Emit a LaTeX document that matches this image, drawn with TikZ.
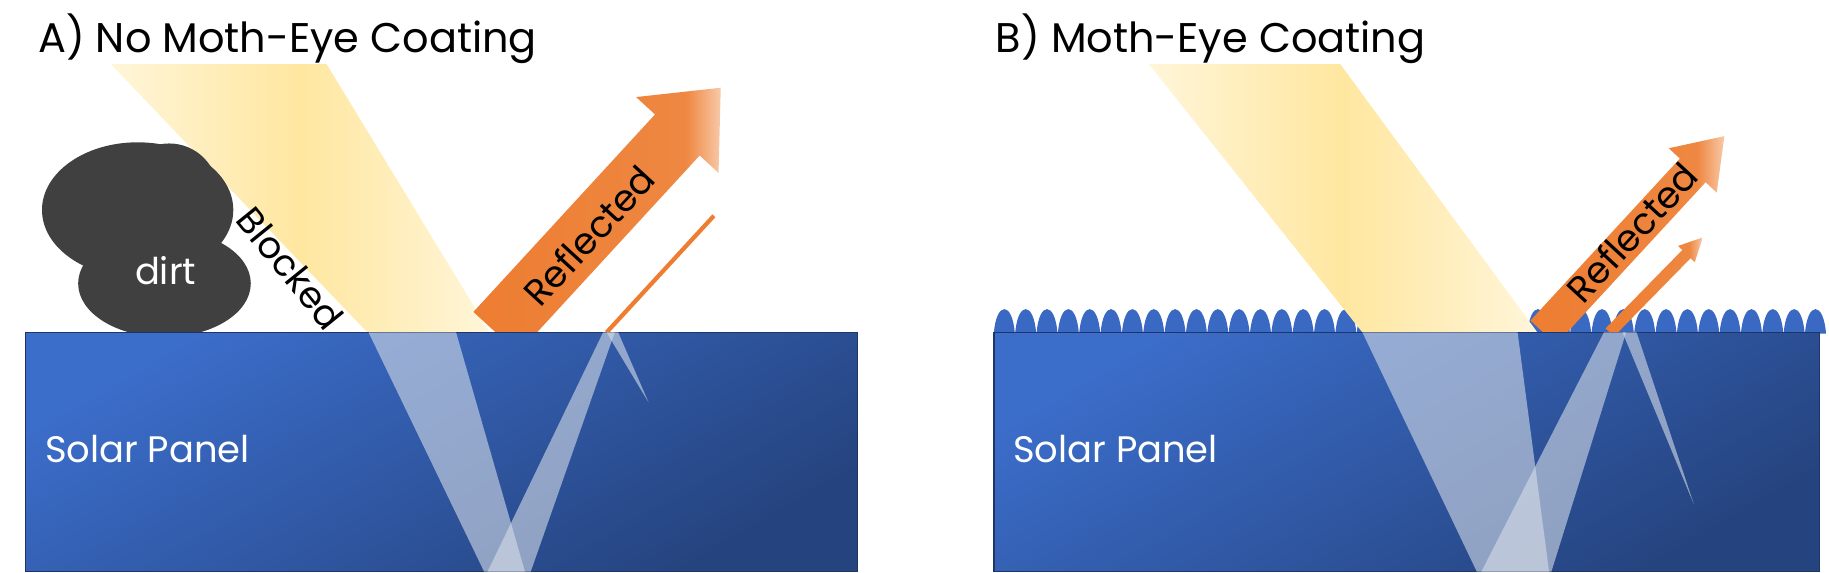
\documentclass[tikz,border=0pt]{standalone}
\usepackage{fontspec}
\setmainfont{Poppins}
\usepackage{tikz}
\usetikzlibrary{positioning}
\definecolor{sun}{HTML}{FFE7A0}
\definecolor{panellight}{HTML}{3B6DCA}
\definecolor{paneldark}{HTML}{25437E}
\definecolor{refl}{HTML}{ED7D31}
\definecolor{reflpale}{HTML}{F8C9A8}
\definecolor{dirtgray}{HTML}{404040}
\definecolor{ray}{HTML}{D6DDE8}
\pgfdeclarehorizontalshading{reflfade}{100bp}{color(0bp)=(refl); color(25bp)=(refl); color(68bp)=(refl!92!white); color(75bp)=(reflpale); color(100bp)=(reflpale)}
\tikzset{%
  panel/.style={%
    draw=paneldark!80!black,
    top color=panellight,
    bottom color=paneldark,
    shading angle=30
  },
  beam/.style={%
    left color=sun!40,
    right color=sun!40,
    middle color=sun
  },
  inray/.style={%
    fill=ray,
    opacity=0.6
  },
  outarrow/.style={%
    shading=reflfade
  },
  title/.style={%
    anchor=base west,
    font=\fontsize{11.8}{14}\selectfont
  },
  label/.style={%
    font=\fontsize{10.5}{12}\selectfont
  }
}
% arrow drawn along local x: #1 length, #2 half shaft, #3 half head, #4 head length
\newcommand{\reflarrow}[4]{%
  \shade[outarrow] (0,-#2) -- ({#1-#4},-#2) -- ({#1-#4},-#3) -- (#1,0)
    -- ({#1-#4},#3) -- ({#1-#4},#2) -- (0,#2) -- cycle;
}

\begin{document}
\begin{tikzpicture}[x=0.011667cm,y=-0.011667cm]
    \useasboundingbox (0,0) rectangle (1568,491);

    % A) no coating
    \node[title] (titleA) at (22,45) {A) No Moth-Eye Coating};
    \shade[beam] (95,55) -- (280,55) -- (420,285) -- (315,285) -- cycle;
    \begin{scope}[shift={(425,285)},rotate=47.4]
      \reflarrow{285}{26}{48}{55}
    \end{scope}
    \draw[refl,line width=1.2pt] (520,285) -- (612,185);
    \node[label,rotate=47.4] (reflA) at (505,202) {Reflected};

    \fill[dirtgray] (118,180) ellipse (82 and 58);
    \fill[dirtgray] (145,165) circle (42);
    \fill[dirtgray] (141,243) ellipse (74 and 46);
    \node[label,white] (dirt) at (142,232) {dirt};
    \node[label,rotate=-51] (blocked) at (249,230) {Blocked};

    \shade[panel] (22,285) rectangle (735,490);
    \fill[inray] (316,285) -- (391,285) -- (450,490) -- (415,490) -- cycle;
    \fill[inray] (418,490) -- (455,490) -- (527,285) -- (517,285) -- cycle;
    \fill[inray] (520,285) -- (530,285) -- (556,345) -- cycle;
    \node[label,white,anchor=west] (panelA) at (28,385) {Solar Panel};

    % B) moth-eye coating
    \node[title] (titleB) at (843,45) {B) Moth-Eye Coating};
    \foreach \i in {0,...,38}{
      \fill[panellight!90!paneldark]
        ({861+18.3*\i-9},286) .. controls ({861+18.3*\i-7},258)
        and ({861+18.3*\i+7},258) .. ({861+18.3*\i+9},286) -- cycle;
    }
    \shade[beam] (985,55) -- (1149,55) -- (1318,285) -- (1168,285) -- cycle;
    \begin{scope}[shift={(1323,285)},rotate=47.3]
      \reflarrow{229}{15}{28}{40}
    \end{scope}
    \begin{scope}[shift={(1380,285)},rotate=45.6]
      \reflarrow{114}{5}{10}{20}
    \end{scope}
    \node[label,rotate=47.3] (reflB) at (1399,199) {Reflected};

    \shade[panel] (852,285) rectangle (1560,490);
    \fill[inray] (1168,285) -- (1301,285) -- (1328,490) -- (1266,490) -- cycle;
    \fill[inray] (1270,490) -- (1330,490) -- (1394,285) -- (1375,285) -- cycle;
    \fill[inray] (1391,285) -- (1403,285) -- (1452,432) -- cycle;
    \node[label,white,anchor=west] (panelB) at (858,385) {Solar Panel};
\end{tikzpicture}
\end{document}
